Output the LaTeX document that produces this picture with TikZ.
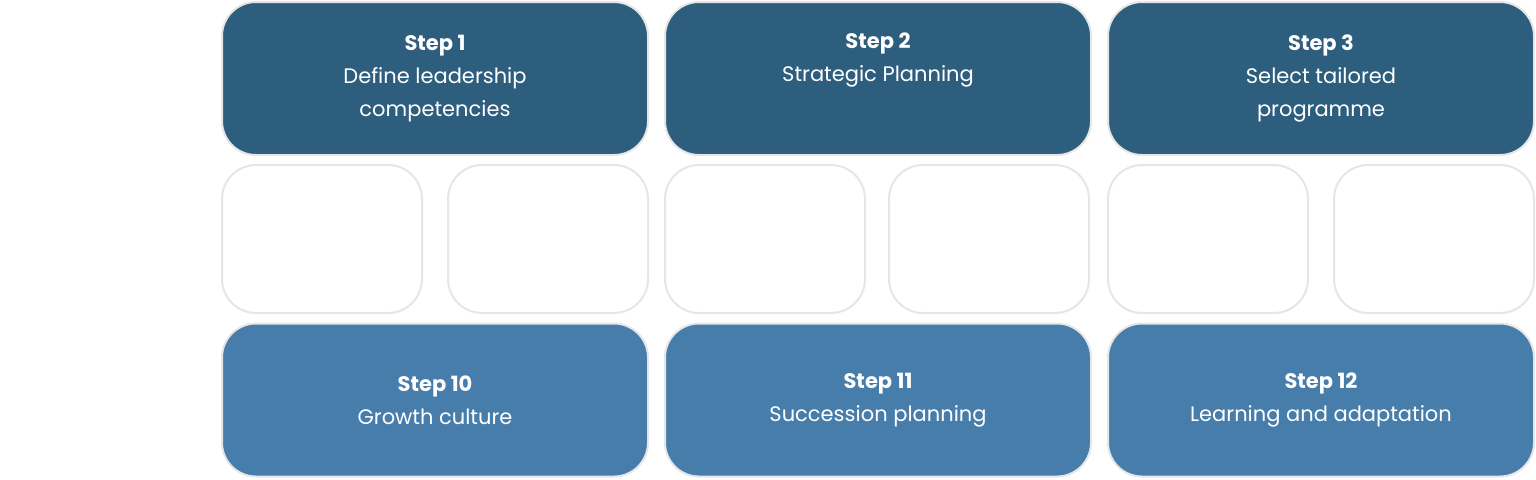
\documentclass[tikz,border=0pt]{standalone}
\usepackage{fontspec}
\setmainfont{Poppins}
\usetikzlibrary{positioning}
\definecolor{stepdark}{HTML}{2E5E7E}
\definecolor{steplight}{HTML}{467DAB}
\definecolor{boxline}{HTML}{E6E6E6}
\tikzset{
    stepbox/.style = {rectangle, rounded corners=17pt, draw=boxline, line width=1pt, text=white,
        minimum width=213pt, minimum height=76.5pt, align=center, font=\fontsize{10.5}{16.5}\selectfont},
    topbox/.style = {stepbox, fill=stepdark},
    botbox/.style = {stepbox, fill=steplight},
    emptybox/.style = {rectangle, rounded corners=17pt, draw=boxline, line width=1pt, fill=white,
        minimum width=100pt, minimum height=74pt}
}
\begin{document}
\begin{tikzpicture}[x=0.5pt,y=-0.5pt]
  \useasboundingbox (0,0) rectangle (1536,479);
  % top row
  \node (s1) at (435,78.5) [topbox] {\textbf{Step 1}\\Define leadership\\competencies};
  \node (s2) at (878,78.5) [topbox] {\textbf{Step 2}\\Strategic Planning\\\strut};
  \node (s3) at (1321,78.5) [topbox] {\textbf{Step 3}\\Select tailored\\programme};
  % middle row
  \node (e1) at (322,239) [emptybox] {};
  \node (e2) at (548,239) [emptybox] {};
  \node (e3) at (765,239) [emptybox] {};
  \node (e4) at (989,239) [emptybox] {};
  \node (e5) at (1208,239) [emptybox] {};
  \node (e6) at (1434,239) [emptybox] {};
  % bottom row
  \node (s10) at (435,400) [botbox] {\textbf{Step 10}\\Growth culture};
  \node (s11) at (878,400) [botbox] {\textbf{Step 11}\\Succession planning};
  \node (s12) at (1321,400) [botbox] {\textbf{Step 12}\\Learning and adaptation};
\end{tikzpicture}
\end{document}
